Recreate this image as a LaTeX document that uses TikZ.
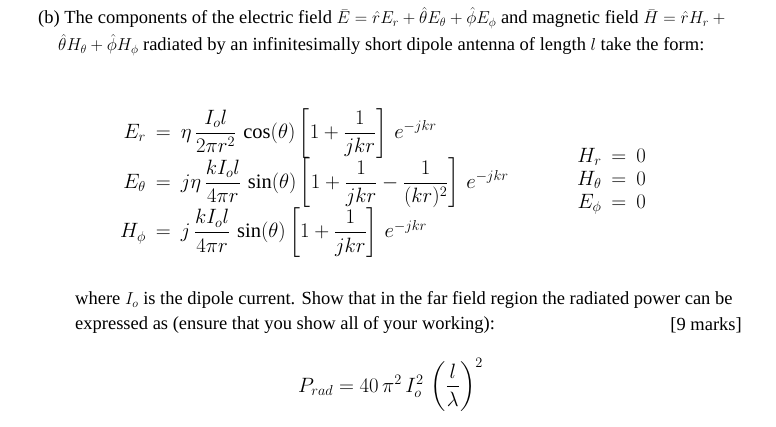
\documentclass[tikz,border=0pt]{standalone}
\usepackage{amsmath}
\usepackage{fontspec}
\setmainfont{Liberation Serif}
\begin{document}
\begin{tikzpicture}[x=1pt,y=-1pt,txt/.style={anchor=west,inner sep=0pt,font=\fontsize{18.5}{22}\selectfont}]
\useasboundingbox (0,0) rectangle (776,426);
\node[txt] (l1) at (38,18) {(b) The components of the electric field $\bar E=\hat r E_r+\hat\theta E_\theta+\hat\phi E_\phi$ and magnetic field $\bar H=\hat r H_r+{}$};
\node[txt] (l2) at (58,45) {$\hat\theta H_\theta+\hat\phi H_\phi$ radiated by an infinitesimally short dipole antenna of length $l$ take the form:};
\node[txt,font=\fontsize{20.5}{24}\selectfont] (eq) at (115,183) {$\begin{array}{rcl}
E_r & = & \eta\,\dfrac{I_o l}{2\pi r^2}\,\cos(\theta)\left[1+\dfrac{1}{jkr}\right]\,e^{-jkr}\\[4pt]
E_\theta & = & j\eta\,\dfrac{kI_o l}{4\pi r}\,\sin(\theta)\left[1+\dfrac{1}{jkr}-\dfrac{1}{(kr)^2}\right]\,e^{-jkr}\\[4pt]
H_\phi & = & j\,\dfrac{kI_o l}{4\pi r}\,\sin(\theta)\left[1+\dfrac{1}{jkr}\right]\,e^{-jkr}
\end{array}$};
\node[txt,font=\fontsize{20}{24}\selectfont] (rh) at (572,181) {$\begin{array}{rcl}
H_r & = & 0\\[-1pt]
H_\theta & = & 0\\[-1pt]
E_\phi & = & 0
\end{array}$};
\node[txt] (w1) at (75,300) {where $I_o$ is the dipole current. Show that in the far field region the radiated power can be};
\node[txt] (w2) at (75,325) {expressed as (ensure that you show all of your working):};
\node[txt,anchor=east] (mk) at (742,325) {[9 marks]};
\node[txt,font=\fontsize{20.5}{24}\selectfont] (pr) at (298,385) {$P_{rad}=40\,\pi^2\,I_o^2\,\left(\dfrac{l}{\lambda}\right)^2$};
\end{tikzpicture}
\end{document}
